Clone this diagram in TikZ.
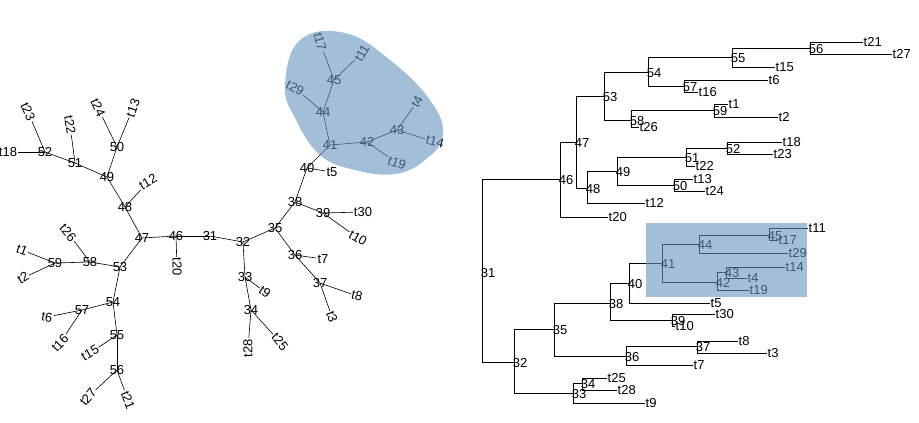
\documentclass[tikz,border=0pt]{standalone}
\usepackage{fontspec}
\setmainfont{Liberation Sans}
\begin{document}
\begin{tikzpicture}[x=1pt,y=-1pt,
  lab/.style={inner sep=0pt,font=\fontsize{13}{14}\selectfont},
  tip/.style={inner sep=1pt,font=\fontsize{13}{14}\selectfont},
  br/.style={line width=0.6pt},
  hl/.style={fill={rgb,255:red,102;green,147;blue,188},fill opacity=0.6,draw=none}]
\useasboundingbox (0,0) rectangle (919,423);
% ---------- unrooted tree (left) ----------
\foreach \n/\x/\y in {47/142/238,46/176/236,31/210/236,32/243/242,35/275/228,38/295/202,
  40/307/168,41/330/145,44/323/112,45/334/80,42/367/142,43/397/130,39/323/213,36/295/255,
  37/320/283,33/245/277,34/251/310,48/125/207,49/107/177,50/117/147,51/75/163,52/45/152,
  53/120/267,58/90/262,59/55/263,54/113/302,57/82/310,55/117/335,56/117/370}
  \node[lab] (L\n) at (\x,\y) {\n};
\foreach \n/\x/\y/\r in {t17/320/42/-75,t11/362/53/60,t29/295/88/-30,t4/417/102/60,
  t14/435/142/-15,t19/397/163/-20,t5/332/172/0,t30/363/212/0,t10/358/238/-30,
  t7/323/259/0,t8/357/296/-15,t3/332/317/-70,t9/265/292/-35,t25/280/342/-50,
  t28/248/348/90,t20/177/267/-90,t12/148/182/30,t13/133/108/70,t24/98/108/-65,
  t22/70/125/-80,t23/28/112/-65,t18/8/152/0,t26/68/233/-50,t1/22/250/-20,
  t2/23/278/30,t6/47/317/-10,t16/60/343/45,t15/90/353/30,t27/88/397/50,t21/128/400/-70}
  \node[tip,rotate=\r] (L\n) at (\x,\y) {\n};
\foreach \a/\b in {47/46,46/31,31/32,32/35,35/38,38/40,40/41,41/44,44/45,41/42,42/43,
  38/39,35/36,36/37,32/33,33/34,47/48,48/49,49/50,49/51,51/52,47/53,53/58,58/59,53/54,
  54/57,54/55,55/56}
  \draw[br] (L\a.center) -- (L\b.center);
\foreach \a/\b in {45/t17,45/t11,44/t29,43/t4,43/t14,42/t19,40/t5,39/t30,39/t10,36/t7,
  37/t8,37/t3,33/t9,34/t25,34/t28,46/t20,48/t12,50/t13,50/t24,51/t22,52/t23,52/t18,
  58/t26,59/t1,59/t2,57/t6,57/t16,55/t15,56/t27,56/t21}
  \draw[br] (L\a.center) -- (L\b);
\fill[hl] plot[smooth cycle,tension=0.7] coordinates {(300,40) (345,33) (390,60)
  (430,100) (443,135) (425,160) (395,174) (355,170) (320,155) (295,118) (285,85)};
% ---------- rooted tree (right) ----------
\foreach \n/\x/\y in {31/482/272,46/560/179,47/576/142,53/604/96,54/648/72,55/732/57,
  56/810/48,57/684/86,58/631/120,59/714/110,48/587/188,49/617/171,51/686/157,52/727/148,
  50/674/185,32/514/362,35/554/329,38/610/303,40/629/283,41/662/263,44/699/244,
  45/769/235,42/717/282,43/726/272,39/672/320,36/626/356,37/697/346,33/573/393,34/582/383}
  {\coordinate (R\n) at (\x,\y); \node[lab] (RL\n) at (\x+6,\y+1) {\n};}
\foreach \n/\x/\y in {t21/863/42,t27/892/54,t15/775/67,t6/768/80,t16/698/92,t1/728/104,
  t2/778/117,t26/639/127,t12/645/203,t18/782/142,t23/773/154,t22/695/166,t13/693/179,
  t24/705/191,t20/608/217,t11/808/228,t17/778/240,t29/788/253,t14/785/267,t4/747/278,
  t19/749/290,t5/710/303,t30/715/314,t10/675/326,t8/738/341,t3/767/353,t7/693/365,
  t25/607/378,t28/617/390,t9/645/403}
  {\coordinate (R\n) at (\x,\y); \node[tip,anchor=west,inner sep=0.5pt] (RL\n) at (R\n) {\n};}
\foreach \a/\b in {31/46,31/32,46/47,46/t20,47/53,47/48,53/54,53/58,54/55,54/57,55/56,
  55/t15,56/t21,56/t27,57/t6,57/t16,58/59,58/t26,59/t1,59/t2,48/49,48/t12,49/51,49/50,
  51/52,51/t22,52/t18,52/t23,50/t13,50/t24,32/35,32/33,35/38,35/36,38/40,38/39,40/41,
  40/t5,41/44,41/42,44/45,44/t29,45/t11,45/t17,42/43,42/t19,43/t14,43/t4,39/t30,39/t10,
  36/37,36/t7,37/t8,37/t3,33/34,33/t9,34/t25,34/t28}
  \draw[br] (R\a) |- (R\b);
\coordinate (Ha) at (646,223); \coordinate (Hb) at (807,297);
\fill[hl] (Ha) rectangle (Hb);
\end{tikzpicture}
\end{document}
